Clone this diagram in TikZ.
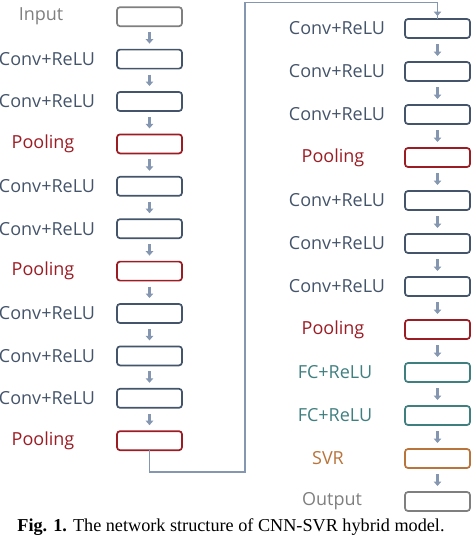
\documentclass[tikz,border=0pt]{standalone}
\usepackage{fontspec}
\setmainfont{Liberation Serif}
\newfontfamily\labelfont{Open Sans}
\usetikzlibrary{positioning,calc,arrows.meta}
\definecolor{ConvSlate}{HTML}{44546A}
\definecolor{InputGray}{HTML}{7F7F7F}
\definecolor{PoolRed}{HTML}{9C1C24}
\definecolor{FcTeal}{HTML}{3F7F80}
\definecolor{SvrOrange}{HTML}{B8743A}
\definecolor{FlowBlue}{HTML}{8496B0}
\begin{document}
\begin{tikzpicture}[
		x=1pt, y=-1pt,
		layer/.style={draw, rounded corners=3pt, line width=1.7pt, minimum width=65pt, minimum height=19pt, inner sep=0pt, outer sep=0pt},
		lbl/.style={font=\labelfont\fontsize{18}{21}\selectfont, inner sep=0pt},
		flow/.style={draw=FlowBlue, line width=2.6pt, -{Triangle[length=4.5pt,width=7.5pt]}, shorten <=6pt, shorten >=6pt},
		link/.style={draw=FlowBlue, line width=1.7pt}
	]
	\useasboundingbox (0,0) rectangle (474,541);

	% left column
	\node[layer, draw=InputGray] (inputbox) at (149.5,16.7) {};
	\node[layer, draw=ConvSlate, below=23.4pt of inputbox] (convA1) {};
	\node[layer, draw=ConvSlate, below=23.4pt of convA1] (convA2) {};
	\node[layer, draw=PoolRed, below=23.4pt of convA2] (poolA1) {};
	\node[layer, draw=ConvSlate, below=23.4pt of poolA1] (convA3) {};
	\node[layer, draw=ConvSlate, below=23.4pt of convA3] (convA4) {};
	\node[layer, draw=PoolRed, below=23.4pt of convA4] (poolA2) {};
	\node[layer, draw=ConvSlate, below=23.4pt of poolA2] (convA5) {};
	\node[layer, draw=ConvSlate, below=23.4pt of convA5] (convA6) {};
	\node[layer, draw=ConvSlate, below=23.4pt of convA6] (convA7) {};
	\node[layer, draw=PoolRed, below=23.4pt of convA7] (poolA3) {};

	% right column
	\node[layer, draw=ConvSlate] (convB1) at (437.5,28.5) {};
	\node[layer, draw=ConvSlate, below=24pt of convB1] (convB2) {};
	\node[layer, draw=ConvSlate, below=24pt of convB2] (convB3) {};
	\node[layer, draw=PoolRed, below=24pt of convB3] (poolB1) {};
	\node[layer, draw=ConvSlate, below=24pt of poolB1] (convB4) {};
	\node[layer, draw=ConvSlate, below=24pt of convB4] (convB5) {};
	\node[layer, draw=ConvSlate, below=24pt of convB5] (convB6) {};
	\node[layer, draw=PoolRed, below=24pt of convB6] (poolB2) {};
	\node[layer, draw=FcTeal, below=24pt of poolB2] (fcB1) {};
	\node[layer, draw=FcTeal, below=24pt of fcB1] (fcB2) {};
	\node[layer, draw=SvrOrange, below=24pt of fcB2] (svrbox) {};
	\node[layer, draw=InputGray, below=24pt of svrbox] (outputbox) {};

	% labels
	\coordinate (leftcol) at (47,0);
	\coordinate (rightcol) at (337,0);
	\node[lbl, text=InputGray] (inputlbl) at ($(leftcol |- inputbox)+(-6,0)$) {Input};
	\node[lbl, text=ConvSlate] (convA1lbl) at (leftcol |- convA1) {Conv+ReLU};
	\node[lbl, text=ConvSlate] (convA2lbl) at (leftcol |- convA2) {Conv+ReLU};
	\node[lbl, text=PoolRed] (poolA1lbl) at ($(leftcol |- poolA1)+(-4,0)$) {Pooling};
	\node[lbl, text=ConvSlate] (convA3lbl) at (leftcol |- convA3) {Conv+ReLU};
	\node[lbl, text=ConvSlate] (convA4lbl) at (leftcol |- convA4) {Conv+ReLU};
	\node[lbl, text=PoolRed] (poolA2lbl) at ($(leftcol |- poolA2)+(-4,0)$) {Pooling};
	\node[lbl, text=ConvSlate] (convA5lbl) at (leftcol |- convA5) {Conv+ReLU};
	\node[lbl, text=ConvSlate] (convA6lbl) at (leftcol |- convA6) {Conv+ReLU};
	\node[lbl, text=ConvSlate] (convA7lbl) at (leftcol |- convA7) {Conv+ReLU};
	\node[lbl, text=PoolRed] (poolA3lbl) at ($(leftcol |- poolA3)+(-4,0)$) {Pooling};

	\node[lbl, text=ConvSlate] (convB1lbl) at (rightcol |- convB1) {Conv+ReLU};
	\node[lbl, text=ConvSlate] (convB2lbl) at (rightcol |- convB2) {Conv+ReLU};
	\node[lbl, text=ConvSlate] (convB3lbl) at (rightcol |- convB3) {Conv+ReLU};
	\node[lbl, text=PoolRed] (poolB1lbl) at ($(rightcol |- poolB1)+(-4,0)$) {Pooling};
	\node[lbl, text=ConvSlate] (convB4lbl) at (rightcol |- convB4) {Conv+ReLU};
	\node[lbl, text=ConvSlate] (convB5lbl) at (rightcol |- convB5) {Conv+ReLU};
	\node[lbl, text=ConvSlate] (convB6lbl) at (rightcol |- convB6) {Conv+ReLU};
	\node[lbl, text=PoolRed] (poolB2lbl) at ($(rightcol |- poolB2)+(-4,0)$) {Pooling};
	\node[lbl, text=FcTeal] (fcB1lbl) at ($(rightcol |- fcB1)+(-2,0)$) {FC+ReLU};
	\node[lbl, text=FcTeal] (fcB2lbl) at ($(rightcol |- fcB2)+(-2,0)$) {FC+ReLU};
	\node[lbl, text=SvrOrange] (svrlbl) at ($(rightcol |- svrbox)+(-9,0)$) {SVR};
	\node[lbl, text=InputGray] (outputlbl) at ($(rightcol |- outputbox)+(-5,0)$) {Output};

	% arrows
	\draw[flow] (inputbox) -- (convA1);
	\draw[flow] (convA1) -- (convA2);
	\draw[flow] (convA2) -- (poolA1);
	\draw[flow] (poolA1) -- (convA3);
	\draw[flow] (convA3) -- (convA4);
	\draw[flow] (convA4) -- (poolA2);
	\draw[flow] (poolA2) -- (convA5);
	\draw[flow] (convA5) -- (convA6);
	\draw[flow] (convA6) -- (convA7);
	\draw[flow] (convA7) -- (poolA3);

	\draw[flow] (convB1) -- (convB2);
	\draw[flow] (convB2) -- (convB3);
	\draw[flow] (convB3) -- (poolB1);
	\draw[flow] (poolB1) -- (convB4);
	\draw[flow] (convB4) -- (convB5);
	\draw[flow] (convB5) -- (convB6);
	\draw[flow] (convB6) -- (poolB2);
	\draw[flow] (poolB2) -- (fcB1);
	\draw[flow] (fcB1) -- (fcB2);
	\draw[flow] (fcB2) -- (svrbox);
	\draw[flow] (svrbox) -- (outputbox);

	% link between the columns
	\coordinate (lowturn) at (245,472);
	\coordinate (highturn) at (245,2.5);
	\draw[link] (poolA3.south) |- (lowturn) -- (highturn) -| (convB1.north);
	\draw[flow, line width=1.7pt, shorten <=0pt, shorten >=3pt] ($(convB1.north)+(0,-10)$) -- (convB1.north);

	% caption
	\node[font=\fontsize{18.2}{21}\selectfont, inner sep=0pt] (caption) at (231,527) {\textbf{Fig. 1.} The network structure of CNN-SVR hybrid model.};
\end{tikzpicture}
\end{document}
